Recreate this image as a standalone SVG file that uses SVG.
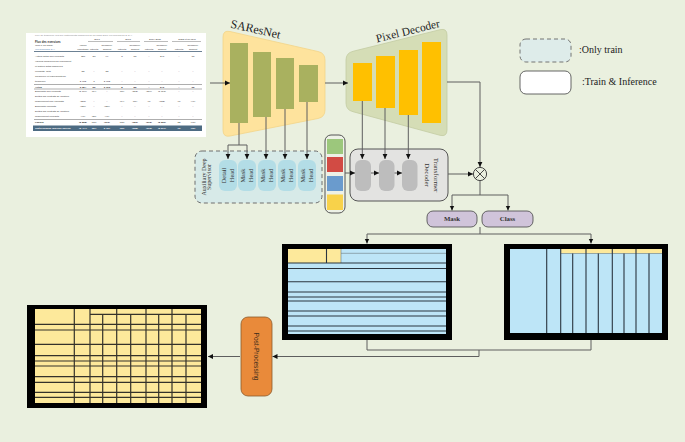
<svg xmlns="http://www.w3.org/2000/svg" width="685" height="442" viewBox="0 0 685 442">
<defs>
<marker id="ah" markerWidth="6" markerHeight="6" refX="5" refY="3" orient="auto" markerUnits="userSpaceOnUse"><path d="M0,0.6 L5,3 L0,5.4 z" fill="#111"/></marker>
<style>
.conn{fill:none;stroke:#5e5e5e;stroke-width:1}
.arr{marker-end:url(#ah)}
.tiny{font-family:"Liberation Sans",Arial,sans-serif;font-size:2.5px;fill:#333}
.ser{font-family:"Liberation Serif","Times New Roman",serif;fill:#222}
.head{fill:#b3dde6}
.htxt{font-family:"Liberation Serif","Times New Roman",serif;font-size:6.3px;fill:#333;text-anchor:middle}
.bl{stroke:#2b3640;stroke-width:1.1;fill:none}
.thin{stroke:#6c7a80;stroke-width:0.6;fill:none}
.yl{stroke:#34322a;stroke-width:1.2;fill:none}
.sbar{fill:#a9b15f}
.pbar{fill:#ffc000}
.ibox{fill:#bdbdbd}
.pill{fill:#d0c4da;stroke:#444;stroke-width:0.8}
.ptxt{font-family:"Liberation Serif","Times New Roman",serif;font-size:6.8px;font-weight:bold;fill:#333;text-anchor:middle}
</style>
</defs>
<rect x="0" y="0" width="685" height="442" fill="#eaf0df"/>

<g id="input-table">
<rect x="26" y="33" width="180" height="104" fill="#ffffff"/>
<text class="tiny" x="35" y="36" fill="#777" style="fill:#888">Flux de trésorerie liés aux instruments financiers au 31 mars 2016 (en millions de $ CA)</text>
<text class="tiny" y="40"><tspan x="97" text-anchor="middle">2017</tspan><tspan x="128" text-anchor="middle">2018</tspan><tspan x="155" text-anchor="middle">2019-2021</tspan><tspan x="187" text-anchor="middle">2022 et au-delà</tspan></text>
<path d="M88,41.5H113M117,41.5H140M144,41.5H168M172,41.5H201" stroke="#555" stroke-width="0.4"/>
<text class="tiny" x="35" y="42.5" style="font-size:2.9px;font-weight:bold">Flux des exercices</text>
<text class="tiny" x="35" y="46">(mis le 31 mars)</text>
<text class="tiny" x="35" y="49.5" style="fill:#4a78ad">(en millions $ CA)</text>
<text class="tiny" y="46"><tspan x="83" text-anchor="middle">Valeur</tspan><tspan x="107" text-anchor="middle">Rembour-</tspan><tspan x="135" text-anchor="middle">Rembour-</tspan><tspan x="162" text-anchor="middle">Rembour-</tspan><tspan x="193" text-anchor="middle">Rembour-</tspan></text>
<text class="tiny" y="49.5"><tspan x="83" text-anchor="middle">comptable</tspan><tspan x="94" text-anchor="middle">Intérêts</tspan><tspan x="107" text-anchor="middle">sement</tspan><tspan x="122" text-anchor="middle">Intérêts</tspan><tspan x="135" text-anchor="middle">sement</tspan><tspan x="149" text-anchor="middle">Intérêts</tspan><tspan x="162" text-anchor="middle">sement</tspan><tspan x="179" text-anchor="middle">Intérêts</tspan><tspan x="193" text-anchor="middle">sement</tspan></text>
<path d="M34,51.5H202" stroke="#2d4a66" stroke-width="0.7"/>
<text class="tiny" y="56.5"><tspan x="35">Autres actifs non courants</tspan><tspan x="83" text-anchor="middle">350</tspan><tspan x="94" text-anchor="middle">23</tspan><tspan x="107" text-anchor="middle">99</tspan><tspan x="122" text-anchor="middle">8</tspan><tspan x="135" text-anchor="middle">85</tspan><tspan x="149" text-anchor="middle">–</tspan><tspan x="162" text-anchor="middle">243</tspan><tspan x="179" text-anchor="middle">–</tspan><tspan x="193" text-anchor="middle">35</tspan></text>
<text class="tiny" x="35" y="61.5">Valeurs mobilières de placement</text>
<text class="tiny" x="35" y="66.5">et autres actifs financiers</text>
<text class="tiny" y="71.5"><tspan x="35">courants, nets</tspan><tspan x="83" text-anchor="middle">22</tspan><tspan x="94" text-anchor="middle">–</tspan><tspan x="107" text-anchor="middle">22</tspan><tspan x="122" text-anchor="middle">–</tspan><tspan x="135" text-anchor="middle">–</tspan><tspan x="149" text-anchor="middle">–</tspan><tspan x="162" text-anchor="middle">–</tspan><tspan x="179" text-anchor="middle">–</tspan><tspan x="193" text-anchor="middle">–</tspan></text>
<text class="tiny" x="35" y="77">Trésorerie et équivalents de</text>
<text class="tiny" y="82"><tspan x="35">trésorerie</tspan><tspan x="83" text-anchor="middle">2 982</tspan><tspan x="94" text-anchor="middle">3</tspan><tspan x="107" text-anchor="middle">2 982</tspan><tspan x="122" text-anchor="middle">–</tspan><tspan x="135" text-anchor="middle">–</tspan><tspan x="149" text-anchor="middle">–</tspan><tspan x="162" text-anchor="middle">–</tspan><tspan x="179" text-anchor="middle">–</tspan><tspan x="193" text-anchor="middle">–</tspan></text>
<path d="M34,84.5H202M34,89H202" stroke="#333" stroke-width="0.4"/>
<text class="tiny" y="87.5" style="font-weight:bold"><tspan x="35">Actifs</tspan><tspan x="83" text-anchor="middle">3 354</tspan><tspan x="94" text-anchor="middle">26</tspan><tspan x="107" text-anchor="middle">3 103</tspan><tspan x="122" text-anchor="middle">8</tspan><tspan x="135" text-anchor="middle">85</tspan><tspan x="149" text-anchor="middle">–</tspan><tspan x="162" text-anchor="middle">243</tspan><tspan x="179" text-anchor="middle">–</tspan><tspan x="193" text-anchor="middle">35</tspan></text>
<text class="tiny" y="92"><tspan x="35">Emprunts non courants</tspan><tspan x="83" text-anchor="middle">(5 169)</tspan><tspan x="94" text-anchor="middle">(54)</tspan><tspan x="107" text-anchor="middle">–</tspan><tspan x="122" text-anchor="middle">(57)</tspan><tspan x="135" text-anchor="middle">(272)</tspan><tspan x="149" text-anchor="middle">(269)</tspan><tspan x="162" text-anchor="middle">(5 398)</tspan><tspan x="179" text-anchor="middle">–</tspan><tspan x="193" text-anchor="middle">–</tspan></text>
<text class="tiny" x="35" y="97">Dettes sur contrats de location-</text>
<text class="tiny" y="102"><tspan x="35">financement non courants</tspan><tspan x="83" text-anchor="middle">(283)</tspan><tspan x="94" text-anchor="middle">–</tspan><tspan x="107" text-anchor="middle">–</tspan><tspan x="122" text-anchor="middle">(14)</tspan><tspan x="135" text-anchor="middle">(51)</tspan><tspan x="149" text-anchor="middle">(3)</tspan><tspan x="162" text-anchor="middle">(122)</tspan><tspan x="179" text-anchor="middle">(3)</tspan><tspan x="193" text-anchor="middle">(47)</tspan></text>
<text class="tiny" y="107"><tspan x="35">Emprunts courants</tspan><tspan x="83" text-anchor="middle">(329)</tspan><tspan x="94" text-anchor="middle">–</tspan><tspan x="107" text-anchor="middle">(329)</tspan><tspan x="122" text-anchor="middle">–</tspan><tspan x="135" text-anchor="middle">–</tspan><tspan x="149" text-anchor="middle">–</tspan><tspan x="162" text-anchor="middle">–</tspan><tspan x="179" text-anchor="middle">–</tspan><tspan x="193" text-anchor="middle">–</tspan></text>
<text class="tiny" x="35" y="112">Dettes sur contrats de location-</text>
<text class="tiny" y="117"><tspan x="35">financement courants</tspan><tspan x="83" text-anchor="middle">(47)</tspan><tspan x="94" text-anchor="middle">(23)</tspan><tspan x="107" text-anchor="middle">(47)</tspan><tspan x="122" text-anchor="middle">–</tspan><tspan x="135" text-anchor="middle">–</tspan><tspan x="149" text-anchor="middle">–</tspan><tspan x="162" text-anchor="middle">–</tspan><tspan x="179" text-anchor="middle">–</tspan><tspan x="193" text-anchor="middle">–</tspan></text>
<path d="M34,119.5H202" stroke="#333" stroke-width="0.4"/>
<text class="tiny" y="122.5" style="font-weight:bold"><tspan x="35">Passifs</tspan><tspan x="83" text-anchor="middle">(5 828)</tspan><tspan x="94" text-anchor="middle">(77)</tspan><tspan x="107" text-anchor="middle">(376)</tspan><tspan x="122" text-anchor="middle">(71)</tspan><tspan x="135" text-anchor="middle">(323)</tspan><tspan x="149" text-anchor="middle">(272)</tspan><tspan x="162" text-anchor="middle">(5 520)</tspan><tspan x="179" text-anchor="middle">(3)</tspan><tspan x="193" text-anchor="middle">(47)</tspan></text>
<rect x="33" y="125.5" width="169" height="5.5" fill="#4d6b82"/>
<text class="tiny" y="129.2" style="fill:#fff;font-weight:bold"><tspan x="35">TRÉSORERIE (DETTE) NETTE</tspan><tspan x="83" text-anchor="middle">(2 474)</tspan><tspan x="94" text-anchor="middle">(51)</tspan><tspan x="107" text-anchor="middle">2 727</tspan><tspan x="122" text-anchor="middle">(63)</tspan><tspan x="135" text-anchor="middle">(238)</tspan><tspan x="149" text-anchor="middle">(272)</tspan><tspan x="162" text-anchor="middle">(5 277)</tspan><tspan x="179" text-anchor="middle">(3)</tspan><tspan x="193" text-anchor="middle">(12)</tspan></text>
</g>

<g id="saresnet">
<path d="M223,37 Q223,30 230,31.5 L318,51.5 Q325,53 325,60 L325,110 Q325,117 318,118.5 L230,136 Q223,137.5 223,130 Z" fill="#fee39d" stroke="#f2d488" stroke-width="0.8"/>
<rect class="sbar" x="230" y="43" width="18" height="80"/>
<rect class="sbar" x="253" y="52" width="18" height="65"/>
<rect class="sbar" x="276" y="58" width="18" height="51"/>
<rect class="sbar" x="299" y="65" width="19" height="37"/>
<text class="ser" transform="translate(230,27.5) rotate(12.7)" font-size="12" font-style="italic" style="font-style:normal">SAResNet</text>
</g>

<g id="pixel-decoder">
<path d="M346,60 Q346,53 353,51.3 L440,29.7 Q447,28 447,35 L447,130 Q447,137 440,135.3 L353,111.7 Q346,110 346,103 Z" fill="#d5ddb6" stroke="#c3cca2" stroke-width="0.8"/>
<rect class="pbar" x="353" y="63" width="19" height="38"/>
<rect class="pbar" x="376" y="56" width="19" height="52"/>
<rect class="pbar" x="399" y="50" width="19" height="65"/>
<rect class="pbar" x="422" y="42" width="19" height="81"/>
<text class="ser" transform="translate(377,42.5) rotate(-13.9)" font-size="11.5">Pixel Decoder</text>
</g>

<g id="legend">
<rect x="520" y="39" width="51" height="23" rx="6" fill="#deecea" stroke="#666" stroke-width="0.9" stroke-dasharray="4,3"/>
<text class="ser" x="579" y="53.3" font-size="10">:Only train</text>
<rect x="520" y="71" width="51" height="23" rx="6" fill="#ffffff" stroke="#555" stroke-width="0.9"/>
<text class="ser" x="582" y="85.3" font-size="10">:Train &amp; Inference</text>
</g>

<g id="aux-supervisor">
<rect x="195" y="151" width="127" height="52" rx="7" fill="#d7eae8" stroke="#6e6e6e" stroke-width="1" stroke-dasharray="4,3"/>
<text class="htxt" transform="translate(205.5,177) rotate(-90)" style="font-size:6px">Auxiliary Deep</text>
<text class="htxt" transform="translate(211,177) rotate(-90)" style="font-size:6px">Supervisor</text>
</g>
<g id="detail-head">
<rect class="head" x="219" y="160" width="18" height="31" rx="6"/>
<text class="htxt" transform="translate(226,175.5) rotate(-90)">Detail</text>
<text class="htxt" transform="translate(234,175.5) rotate(-90)">Head</text>
</g>
<g id="mask-head-1">
<rect class="head" x="238" y="160" width="18" height="31" rx="6"/>
<text class="htxt" transform="translate(245,175.5) rotate(-90)">Mask</text>
<text class="htxt" transform="translate(253,175.5) rotate(-90)">Head</text>
</g>
<g id="mask-head-2">
<rect class="head" x="258" y="160" width="18" height="31" rx="6"/>
<text class="htxt" transform="translate(265,175.5) rotate(-90)">Mask</text>
<text class="htxt" transform="translate(273,175.5) rotate(-90)">Head</text>
</g>
<g id="mask-head-3">
<rect class="head" x="278" y="160" width="18" height="31" rx="6"/>
<text class="htxt" transform="translate(285,175.5) rotate(-90)">Mask</text>
<text class="htxt" transform="translate(293,175.5) rotate(-90)">Head</text>
</g>
<g id="mask-head-4">
<rect class="head" x="298" y="160" width="18" height="31" rx="6"/>
<text class="htxt" transform="translate(305,175.5) rotate(-90)">Mask</text>
<text class="htxt" transform="translate(313,175.5) rotate(-90)">Head</text>
</g>

<g id="queries">
<rect x="325" y="135" width="20" height="78" rx="6" fill="#edf1e6" stroke="#555" stroke-width="1"/>
<rect x="327" y="139" width="16" height="15" fill="#9cc77c"/>
<rect x="327" y="157" width="16" height="15" fill="#d24b44"/>
<rect x="327" y="176" width="16" height="15" fill="#6a9bcd"/>
<rect x="327" y="194.5" width="16" height="15.5" fill="#f8d24a"/>
</g>

<g id="transformer-decoder">
<rect x="350" y="149" width="98" height="52" rx="8" fill="#e3e3e1" stroke="#555" stroke-width="1"/>
<rect class="ibox" x="355" y="160" width="16" height="31" rx="6"/>
<rect class="ibox" x="379" y="160" width="15.5" height="31" rx="6"/>
<rect class="ibox" x="402" y="160" width="15.5" height="31" rx="6"/>
<text class="htxt" transform="translate(433.8,175) rotate(90)" style="font-size:7px">Transformer</text>
<text class="htxt" transform="translate(425.2,175) rotate(90)" style="font-size:7px">Decoder</text>
</g>

<g id="multiply">
<circle cx="480" cy="174" r="6.6" fill="none" stroke="#333" stroke-width="0.9"/>
<path d="M475.3,169.3L484.7,178.7M484.7,169.3L475.3,178.7" stroke="#333" stroke-width="0.9"/>
</g>

<g id="mask">
<rect class="pill" x="427" y="211" width="50" height="16" rx="6"/>
<text class="ptxt" x="452" y="221.3">Mask</text>
</g>
<g id="class">
<rect class="pill" x="482" y="211" width="51" height="16" rx="6"/>
<text class="ptxt" x="507.5" y="221.3">Class</text>
</g>

<g id="mask-output">
<rect x="282" y="244" width="170" height="96" fill="#000"/>
<rect x="288" y="249" width="158" height="85" fill="#bde5f7"/>
<rect x="288" y="249" width="53" height="14" fill="#fde99b"/>
<path class="thin" d="M341,253.3H446M341,249V263"/>
<path class="bl" d="M326.5,249V263M288,263H446M288,268.5H446M288,281.7H446M288,292H446M288,297H446M288,301H446M288,311H446M288,316H446M288,326H446M288,331H446"/>
</g>

<g id="class-output">
<rect x="504" y="244" width="164" height="96" fill="#000"/>
<rect x="510" y="249" width="152" height="84" fill="#bde5f7"/>
<rect x="560.7" y="249" width="101.3" height="4.3" fill="#fde99b"/>
<path class="thin" d="M560.7,253.5H662"/>
<path class="bl" d="M546.7,249V333M560.7,249V333M586,249V333M612.3,249V333M636,249V333M572.7,253.5V333M598.3,253.5V333M624,253.5V333M649,253.5V333"/>
</g>

<g id="post-processing">
<rect x="241" y="317" width="31" height="79" rx="7" fill="#e98a3a" stroke="#8a5a2c" stroke-width="0.8"/>
<text transform="translate(254.3,356.5) rotate(90)" font-family="'Liberation Sans',Arial,sans-serif" font-size="6.6" fill="#3a2a1a" text-anchor="middle">Post-Processing</text>
</g>

<g id="output-table">
<rect x="27" y="305" width="180" height="103" fill="#000"/>
<rect x="35" y="309" width="166" height="94" fill="#fde99b"/>
<path class="yl" d="M74.3,309V403M90,309V403M116.7,309V403M146,309V403M172,309V403M102.7,314.3V403M130.7,314.3V403M158.7,314.3V403M186,314.3V403M90,314.3H201M35,324.3H201M35,330H201M35,344.3H201M35,355.7H201M35,361H201M35,366H201M35,376.7H201M35,382.3H201M35,392.3H201M35,397.3H201"/>
</g>

<g id="connectors">
<path class="conn arr" d="M210,83H230"/>
<path class="conn arr" d="M325,83H348"/>
<path class="conn" d="M239,123V145M228,145H247"/>
<path class="conn arr" d="M228,145V159"/>
<path class="conn arr" d="M247,145V159"/>
<path class="conn arr" d="M266,117V159"/>
<path class="conn arr" d="M285,109V159"/>
<path class="conn arr" d="M307,102V159"/>
<path class="conn arr" d="M362.3,101V159"/>
<path class="conn arr" d="M385,108V159"/>
<path class="conn arr" d="M408.3,115V159"/>
<path class="conn arr" d="M345,173H355"/>
<path class="conn arr" d="M371,173H379"/>
<path class="conn arr" d="M394.5,173H402"/>
<path class="conn arr" d="M448,174H473"/>
<path class="conn arr" d="M447,82H480V167"/>
<path class="conn" d="M480,180.6V195M452,195H508"/>
<path class="conn arr" d="M452,195V210.5"/>
<path class="conn arr" d="M508,195V210.5"/>
<path class="conn" d="M480,227V234M367,234H591"/>
<path class="conn arr" d="M367,234V243.5"/>
<path class="conn arr" d="M591,234V243.5"/>
<path class="conn" d="M367,340V350H591V340M479,350V356.5"/>
<path class="conn arr" d="M479,356.5H272.5"/>
<path class="conn arr" d="M240,356.5H208"/>
</g>
</svg>
